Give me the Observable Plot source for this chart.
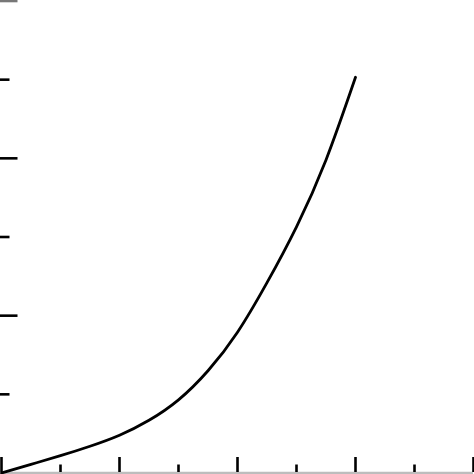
<!DOCTYPE html>
<html>
<head>
<meta charset="utf-8">
<script src="https://cdn.jsdelivr.net/npm/d3@7"></script>
<script src="https://cdn.jsdelivr.net/npm/@observablehq/plot@0.6"></script>
<style>
  html, body { margin: 0; padding: 0; background: #fff; }
  #chart svg { display: block; }
</style>
</head>
<body>
<div id="chart"></div>
<script>
const curveX = [0, 0.5, 1, 1.5, 2, 2.5, 3, 3.5, 4, 4.5, 5, 5.5, 6.0];
const curveY = [0, 0.11, 0.22, 0.34, 0.48, 0.67, 0.93, 1.30, 1.79, 2.42, 3.13, 3.98, 5.03];
const xMajorTicks = [0, 2, 4, 6, 8];
const xMinorTicks = [1, 3, 5, 7];
const yMajorTicks = [0, 2, 4, 6];
const yMinorTicks = [1, 3, 5];

const data = curveX.map((x, i) => ({x, y: curveY[i]}));

const chart = Plot.plot({
  width: 474,
  height: 474,
  marginLeft: 1,
  marginRight: 1,
  marginTop: 0.5,
  marginBottom: 1.5,
  x: {domain: [0, 8], axis: null},
  y: {domain: [0, 6], axis: null},
  marks: [
    Plot.ruleY([0], {stroke: "#bdbdbd", strokeWidth: 3, dy: 0.3}),
    Plot.ruleX(xMajorTicks, {x: d => d, y1: 0, y2: 0, insetTop: -0.5, insetBottom: 15.5, stroke: "#000", strokeWidth: 2.6}),
    Plot.ruleX(xMinorTicks, {x: d => d, y1: 0, y2: 0, insetTop: -0.5, insetBottom: 8, stroke: "#000", strokeWidth: 2.6}),
    Plot.ruleY(yMajorTicks.filter(d => d > 0), {y: d => d, x1: 0, x2: 0, insetLeft: -1, insetRight: -16.5, stroke: d => d === 6 ? "#777" : "#000", strokeWidth: 2.6}),
    Plot.ruleY(yMinorTicks, {y: d => d, x1: 0, x2: 0, insetLeft: -1, insetRight: -8.5, stroke: "#000", strokeWidth: 2.6}),
    Plot.line(data, {x: "x", y: "y", curve: "natural", stroke: "#000", strokeWidth: 2.8})
  ]
});
document.getElementById("chart").appendChild(chart);
</script>
</body>
</html>
